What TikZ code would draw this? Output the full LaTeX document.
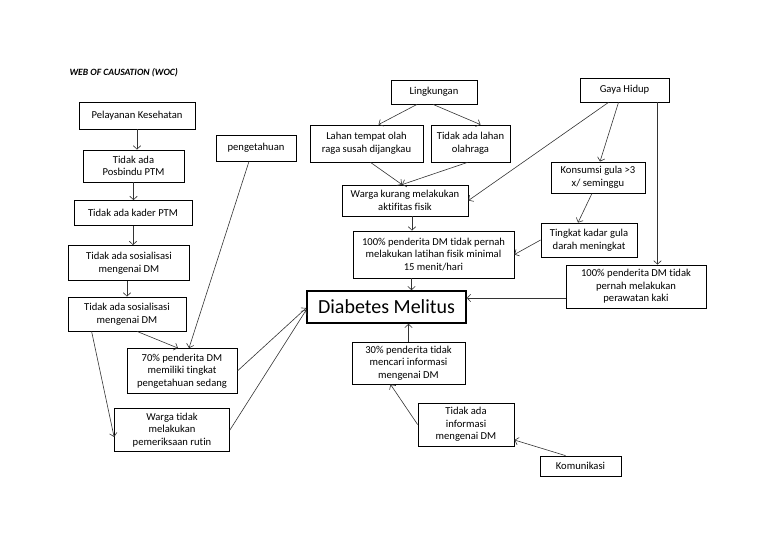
\documentclass[tikz,border=0pt]{standalone}
\usepackage{fontspec}
\setmainfont{Carlito}[Ligatures=NoCommon]
\usepackage{tikz}
\usetikzlibrary{arrows.meta}
\colorlet{ln}{black!80}
\tikzset{bx/.style 2 args={rectangle, draw=black, line width=0.8pt, align=center,
            minimum width=#1pt, minimum height=#2pt, inner sep=1pt,
            font=\fontsize{10.6}{12.6}\selectfont},
         ar/.style={->, draw=ln, line width=0.6pt}}

\begin{document}
\begin{tikzpicture}[x=1pt, y=-1pt, >={Straight Barb[length=3.5pt,width=7.5pt]}]
\useasboundingbox (0,0) rectangle (768,543);
\node[anchor=west, font=\fontsize{9.6}{11}\selectfont\bfseries\itshape] (title) at (66,73)
      {WEB OF CAUSATION (WOC)};
% left column
\node[bx={116}{27}] (pel) at (137,115.5) {Pelayanan Kesehatan};
\node[bx={101}{32}] (pos) at (133.5,166) {Tidak ada\\Posbindu PTM};
\node[bx={118}{25}] (kad) at (133,213) {Tidak ada kader PTM};
\node[bx={121}{35}] (sos1) at (129,263) {Tidak ada sosialisasi\\mengenai DM};
\node[bx={118}{34}] (sos2) at (127,314) {Tidak ada sosialisasi\\mengenai DM};
\node[bx={110}{45}] (pgt) at (182,371) {70\% penderita DM\\memiliki tingkat\\pengetahuan sedang};
\node[bx={115}{43}] (wtd) at (172,430) {Warga tidak\\melakukan\\pemeriksaan rutin};
\node[bx={80}{26}] (pen) at (256,148) {pengetahuan};
% middle
\node[bx={86}{24}] (lin) at (434,92) {Lingkungan};
\node[bx={113}{37}] (lah) at (366.5,143.5) {Lahan tempat olah\\raga susah dijangkau};
\node[bx={79}{37}] (tlh) at (470.5,143.5) {Tidak ada lahan\\olahraga};
\node[bx={126}{31}] (wkm) at (405,200.5) {Warga kurang melakukan\\aktifitas fisik};
\node[bx={161}{47}] (lat) at (433.5,254.5)
      {100\% penderita DM tidak pernah\\melakukan latihan fisik minimal\\15 menit/hari};
\node[bx={159}{32}, line width=1.6pt, font=\fontsize{20}{24}\selectfont] (dm) at (386.5,307)
      {Diabetes Melitus};
\node[bx={113}{42}] (inf) at (408.5,363) {30\% penderita tidak\\mencari informasi\\mengenai DM};
\node[bx={96}{43}] (tin) at (466,424.5) {Tidak ada\\informasi\\mengenai DM};
\node[bx={81}{20}] (kom) at (580.5,466) {Komunikasi};
% right
\node[bx={89}{24}] (gay) at (624.5,90) {Gaya Hidup};
\node[bx={94}{31}] (kon) at (598,177.5) {Konsumsi gula >3\\x/ seminggu};
\node[bx={96}{34}] (tkg) at (589,240) {Tingkat kadar gula\\darah meningkat};
\node[bx={140}{43}] (kak) at (636,286.5) {100\% penderita DM tidak\\pernah melakukan\\perawatan kaki};

\draw[ar] (pel) -- (pel |- pos.north);
\draw[ar] (pos) -- (pos |- kad.north);
\draw[ar] (kad) -- (kad |- sos1.north);
\draw[ar] (sos1.south -| sos2) -- (sos2.north);
\draw[ar] ([xshift=10pt]sos2.south) -- ([xshift=-4pt]pgt.north);
\draw[ar] ([xshift=24pt]sos2.south west) -- ([yshift=-7pt]wtd.west);
\draw[ar] ([xshift=-7pt]pen.south) -- ([xshift=7pt]pgt.north);
\draw[ar] (pgt.east) -- ([yshift=-1pt]dm.west);
\draw[ar] (wtd.east) -- ([yshift=-3pt]dm.west);

\draw[ar] ([xshift=-17pt]lin.south) -- ([xshift=12pt]lah.north);
\draw[ar] ([xshift=-1pt]lin.south) -- ([xshift=10pt]tlh.north);
\draw[ar] ([xshift=4pt]lah.south) -- ([xshift=-3pt]wkm.north);
\draw[ar] ([xshift=-3pt]tlh.south) -- ([xshift=-3pt]wkm.north);
\draw[ar] ([xshift=7pt]wkm.south) -- ([xshift=7pt]wkm.south |- lat.north);
\draw[ar] ([xshift=25pt]dm.north |- lat.south) -- ([xshift=25pt]dm.north);
\draw[ar] (inf.north) -- (inf.north |- dm.south);
\draw[ar] (tin.west) -- ([xshift=-18pt]inf.south);
\draw[ar] ([xshift=-15pt]kom.north) -- ([yshift=-15.5pt]tin.east);

\draw[ar] ([xshift=-16pt]gay.south) -- (wkm.east);
\draw[ar] ([xshift=-6pt]gay.south) -- ([xshift=2pt]kon.north);
\draw[ar] ([xshift=-6pt]kon.south) -- ([xshift=-11pt]tkg.north);
\draw[ar] (tkg.west) -- (lat.east);
\draw[ar] ([xshift=33pt]gay.south) -- ([xshift=33pt]gay.south |- kak.north);
\draw[ar] ([yshift=-11.5pt]kak.west) -- ([yshift=-11.5pt]kak.west -| dm.east);
\end{tikzpicture}
\end{document}
